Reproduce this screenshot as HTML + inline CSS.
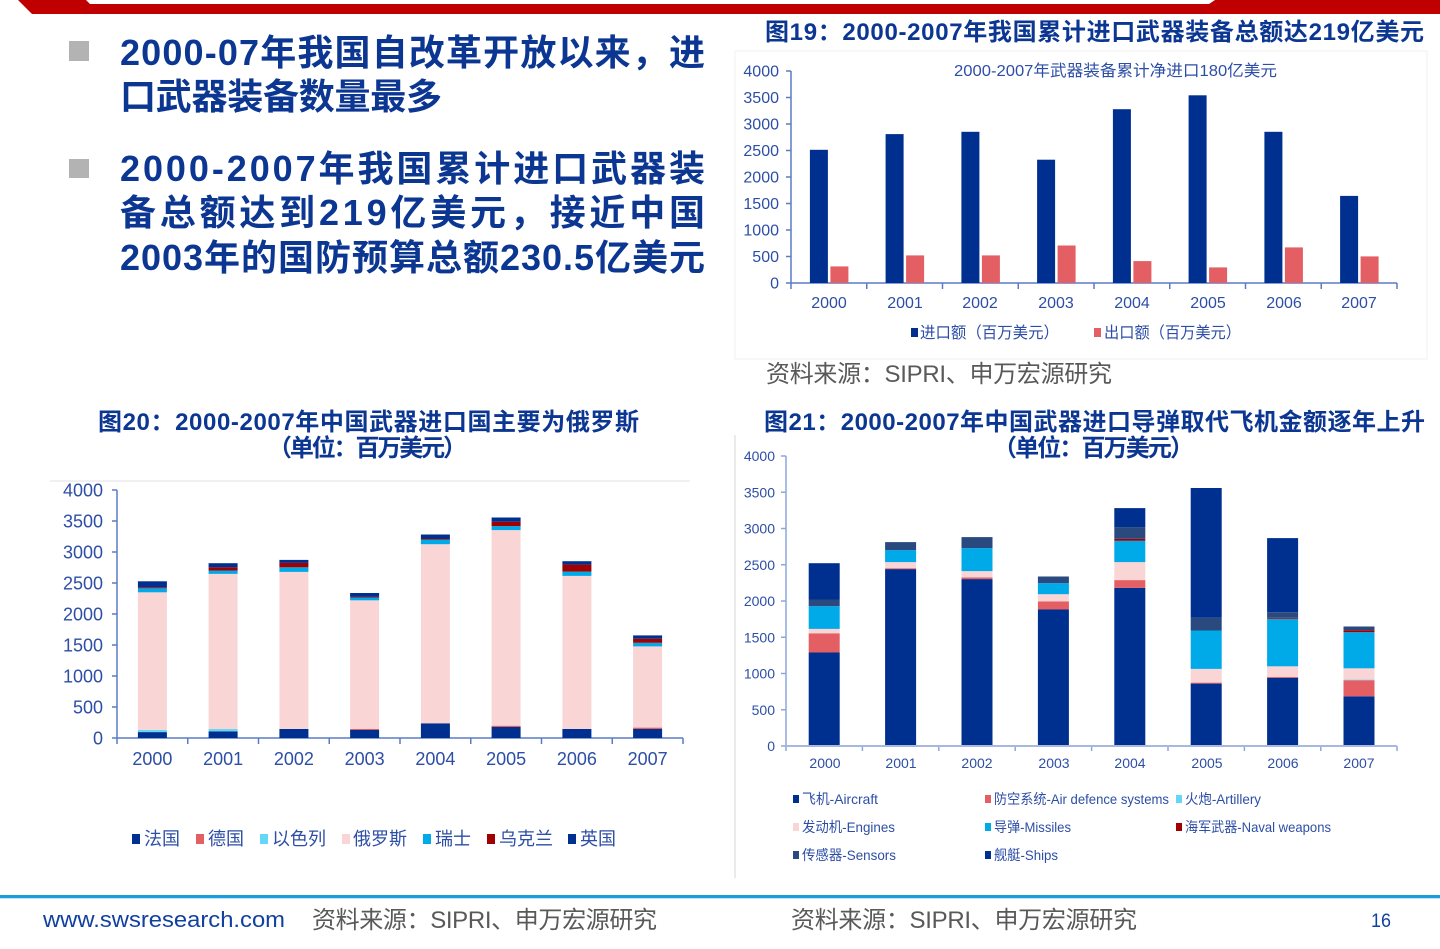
<!DOCTYPE html>
<html><head><meta charset="utf-8"><style>
html,body{margin:0;padding:0;background:#fff;}
svg{display:block;}
text{font-family:"Liberation Sans","Noto Sans CJK SC",sans-serif;}
</style></head><body>
<svg width="1440" height="949" viewBox="0 0 1440 949" xmlns="http://www.w3.org/2000/svg">
<!-- top red bar -->
<polygon points="18,0 1440,0 1440,14 32,14" fill="#c00000"/>
<polygon points="86,0 1215,0 1209,4 90,4" fill="#ffffff"/>

<!-- left text -->
<rect x="69" y="41" width="20" height="20" fill="#b3b3b3"/>
<rect x="69" y="159" width="20" height="19" fill="#b3b3b3"/>
<g font-size="36" font-weight="bold" fill="#0b3692">
<text x="120" y="65" textLength="585" lengthAdjust="spacing">2000-07年我国自改革开放以来，进</text>
<text x="120" y="109" textLength="322" lengthAdjust="spacing">口武器装备数量最多</text>
<text x="120" y="181" textLength="585" lengthAdjust="spacing">2000-2007年我国累计进口武器装</text>
<text x="120" y="225" textLength="585" lengthAdjust="spacing">备总额达到219亿美元，接近中国</text>
<text x="120" y="270" textLength="585" lengthAdjust="spacing">2003年的国防预算总额230.5亿美元</text>
</g>

<!-- ===== Chart 19 ===== -->
<text x="765" y="40" font-size="24" font-weight="bold" fill="#0b3692" textLength="659" lengthAdjust="spacing">图19：2000-2007年我国累计进口武器装备总额达219亿美元</text>
<rect x="735" y="51" width="692" height="308" fill="none" stroke="#f0f0f0" stroke-width="1"/>
<text x="954" y="76" font-size="16" fill="#2d4ea6" textLength="323" lengthAdjust="spacingAndGlyphs">2000-2007年武器装备累计净进口180亿美元</text>
<g stroke="#5b7bc8" stroke-width="1.5">
<line x1="791" y1="71" x2="791" y2="283"/>
<line x1="791" y1="283" x2="1397" y2="283"/>
<line x1="786" y1="71" x2="791" y2="71"/><line x1="786" y1="97.5" x2="791" y2="97.5"/><line x1="786" y1="124" x2="791" y2="124"/><line x1="786" y1="150.5" x2="791" y2="150.5"/><line x1="786" y1="177" x2="791" y2="177"/><line x1="786" y1="203.5" x2="791" y2="203.5"/><line x1="786" y1="230" x2="791" y2="230"/><line x1="786" y1="256.5" x2="791" y2="256.5"/><line x1="786" y1="283" x2="791" y2="283"/>
<line x1="791" y1="283" x2="791" y2="289"/><line x1="866.75" y1="283" x2="866.75" y2="289"/><line x1="942.5" y1="283" x2="942.5" y2="289"/><line x1="1018.25" y1="283" x2="1018.25" y2="289"/><line x1="1094" y1="283" x2="1094" y2="289"/><line x1="1169.75" y1="283" x2="1169.75" y2="289"/><line x1="1245.5" y1="283" x2="1245.5" y2="289"/><line x1="1321.25" y1="283" x2="1321.25" y2="289"/><line x1="1397" y1="283" x2="1397" y2="289"/>
</g>
<g font-size="16" fill="#2d4ea6" text-anchor="end">
<text x="779" y="76.5">4000</text><text x="779" y="103">3500</text><text x="779" y="129.5">3000</text><text x="779" y="156">2500</text><text x="779" y="182.5">2000</text><text x="779" y="209">1500</text><text x="779" y="235.5">1000</text><text x="779" y="262">500</text><text x="779" y="288.5">0</text>
</g>
<g font-size="16" fill="#2d4ea6" text-anchor="middle">
<text x="829" y="308">2000</text><text x="905" y="308">2001</text><text x="980" y="308">2002</text><text x="1056" y="308">2003</text><text x="1132" y="308">2004</text><text x="1208" y="308">2005</text><text x="1284" y="308">2006</text><text x="1359" y="308">2007</text>
</g>
<g fill="#00308f">
<rect x="809.9" y="149.8" width="18" height="133.2"/>
<rect x="885.6" y="134.1" width="18" height="148.9"/>
<rect x="961.4" y="131.8" width="18" height="151.2"/>
<rect x="1037.1" y="159.7" width="18" height="123.3"/>
<rect x="1112.9" y="109.2" width="18" height="173.8"/>
<rect x="1188.6" y="95.3" width="18" height="187.7"/>
<rect x="1264.4" y="131.8" width="18" height="151.2"/>
<rect x="1340.1" y="195.9" width="18" height="87.1"/>
</g>
<g fill="#e35f63">
<rect x="830.4" y="266.4" width="18" height="16.6"/>
<rect x="906.1" y="255.4" width="18" height="27.6"/>
<rect x="981.9" y="255.4" width="18" height="27.6"/>
<rect x="1057.6" y="245.5" width="18" height="37.5"/>
<rect x="1133.4" y="261.1" width="18" height="21.9"/>
<rect x="1209.1" y="267.4" width="18" height="15.6"/>
<rect x="1284.9" y="247.4" width="18" height="35.6"/>
<rect x="1360.6" y="256.4" width="18" height="26.6"/>
</g>
<rect x="911" y="328" width="7" height="9" fill="#00308f"/>
<text x="920" y="338" font-size="16" fill="#2d4ea6" textLength="139" lengthAdjust="spacingAndGlyphs">进口额（百万美元）</text>
<rect x="1094" y="328" width="7" height="9" fill="#e35f63"/>
<text x="1104" y="338" font-size="16" fill="#2d4ea6" textLength="137" lengthAdjust="spacingAndGlyphs">出口额（百万美元）</text>
<text x="766" y="382" font-size="24" fill="#595959" textLength="346" lengthAdjust="spacing">资料来源：SIPRI、申万宏源研究</text>

<!-- ===== Chart 20 ===== -->
<text x="98" y="430" font-size="24" font-weight="bold" fill="#0b3692" textLength="541" lengthAdjust="spacing">图20：2000-2007年中国武器进口国主要为俄罗斯</text>
<text x="268" y="456" font-size="24" font-weight="bold" fill="#0b3692" textLength="199" lengthAdjust="spacing">（单位：百万美元）</text>
<line x1="50" y1="481" x2="690" y2="481" stroke="#ebebeb" stroke-width="1.5"/>
<g stroke="#5b7bc8" stroke-width="1.5">
<line x1="117" y1="490" x2="117" y2="738"/>
<line x1="117" y1="738" x2="683" y2="738"/>
<line x1="112" y1="490" x2="117" y2="490"/><line x1="112" y1="521" x2="117" y2="521"/><line x1="112" y1="552" x2="117" y2="552"/><line x1="112" y1="583" x2="117" y2="583"/><line x1="112" y1="614" x2="117" y2="614"/><line x1="112" y1="645" x2="117" y2="645"/><line x1="112" y1="676" x2="117" y2="676"/><line x1="112" y1="707" x2="117" y2="707"/><line x1="112" y1="738" x2="117" y2="738"/>
<line x1="117" y1="738" x2="117" y2="744"/><line x1="187.75" y1="738" x2="187.75" y2="744"/><line x1="258.5" y1="738" x2="258.5" y2="744"/><line x1="329.25" y1="738" x2="329.25" y2="744"/><line x1="400" y1="738" x2="400" y2="744"/><line x1="470.75" y1="738" x2="470.75" y2="744"/><line x1="541.5" y1="738" x2="541.5" y2="744"/><line x1="612.25" y1="738" x2="612.25" y2="744"/><line x1="683" y1="738" x2="683" y2="744"/>
</g>
<g font-size="18" fill="#2d4ea6" text-anchor="end">
<text x="103" y="496.5">4000</text><text x="103" y="527.5">3500</text><text x="103" y="558.5">3000</text><text x="103" y="589.5">2500</text><text x="103" y="620.5">2000</text><text x="103" y="651.5">1500</text><text x="103" y="682.5">1000</text><text x="103" y="713.5">500</text><text x="103" y="744.5">0</text>
</g>
<g font-size="18" fill="#2d4ea6" text-anchor="middle">
<text x="152.4" y="765">2000</text><text x="223.1" y="765">2001</text><text x="293.9" y="765">2002</text><text x="364.6" y="765">2003</text><text x="435.4" y="765">2004</text><text x="506.1" y="765">2005</text><text x="576.9" y="765">2006</text><text x="647.6" y="765">2007</text>
</g>
<!-- 2000 -->
<rect x="137.9" y="732.1" width="29" height="5.9" fill="#00308f"/>
<rect x="137.9" y="729.9" width="29" height="2.2" fill="#66d6f6"/>
<rect x="137.9" y="592.3" width="29" height="137.6" fill="#f9d5d5"/>
<rect x="137.9" y="588.3" width="29" height="4.0" fill="#00aae9"/>
<rect x="137.9" y="587.3" width="29" height="1.0" fill="#a00000"/>
<rect x="137.9" y="581.3" width="29" height="6.0" fill="#00308f"/>
<!-- 2001 -->
<rect x="208.6" y="731.3" width="29" height="6.7" fill="#00308f"/>
<rect x="208.6" y="729.0" width="29" height="2.3" fill="#66d6f6"/>
<rect x="208.6" y="573.9" width="29" height="155.1" fill="#f9d5d5"/>
<rect x="208.6" y="570.6" width="29" height="3.3" fill="#00aae9"/>
<rect x="208.6" y="567.3" width="29" height="3.3" fill="#a00000"/>
<rect x="208.6" y="563.2" width="29" height="4.1" fill="#00308f"/>
<!-- 2002 -->
<rect x="279.4" y="729.0" width="29" height="9.0" fill="#00308f"/>
<rect x="279.4" y="571.9" width="29" height="157.1" fill="#f9d5d5"/>
<rect x="279.4" y="567.3" width="29" height="4.6" fill="#00aae9"/>
<rect x="279.4" y="562.9" width="29" height="4.4" fill="#a00000"/>
<rect x="279.4" y="559.9" width="29" height="3.0" fill="#00308f"/>
<!-- 2003 -->
<rect x="350.1" y="730.0" width="29" height="8.0" fill="#00308f"/>
<rect x="350.1" y="729.0" width="29" height="1.0" fill="#e35f63"/>
<rect x="350.1" y="600.3" width="29" height="128.7" fill="#f9d5d5"/>
<rect x="350.1" y="597.6" width="29" height="2.7" fill="#00aae9"/>
<rect x="350.1" y="596.9" width="29" height="0.7" fill="#a00000"/>
<rect x="350.1" y="593.0" width="29" height="3.9" fill="#00308f"/>
<!-- 2004 -->
<rect x="420.9" y="723.3" width="29" height="14.7" fill="#00308f"/>
<rect x="420.9" y="544.2" width="29" height="179.1" fill="#f9d5d5"/>
<rect x="420.9" y="539.5" width="29" height="4.7" fill="#00aae9"/>
<rect x="420.9" y="538.5" width="29" height="1.0" fill="#a00000"/>
<rect x="420.9" y="534.5" width="29" height="4.0" fill="#00308f"/>
<!-- 2005 -->
<rect x="491.6" y="727.0" width="29" height="11.0" fill="#00308f"/>
<rect x="491.6" y="725.7" width="29" height="1.3" fill="#e35f63"/>
<rect x="491.6" y="530.1" width="29" height="195.6" fill="#f9d5d5"/>
<rect x="491.6" y="526.1" width="29" height="4.0" fill="#00aae9"/>
<rect x="491.6" y="521.8" width="29" height="4.3" fill="#a00000"/>
<rect x="491.6" y="517.5" width="29" height="4.3" fill="#00308f"/>
<!-- 2006 -->
<rect x="562.4" y="729.0" width="29" height="9.0" fill="#00308f"/>
<rect x="562.4" y="575.9" width="29" height="153.1" fill="#f9d5d5"/>
<rect x="562.4" y="571.6" width="29" height="4.3" fill="#00aae9"/>
<rect x="562.4" y="564.6" width="29" height="7.0" fill="#a00000"/>
<rect x="562.4" y="561.2" width="29" height="3.4" fill="#00308f"/>
<!-- 2007 -->
<rect x="633.1" y="729.0" width="29" height="9.0" fill="#00308f"/>
<rect x="633.1" y="727.6" width="29" height="1.4" fill="#e35f63"/>
<rect x="633.1" y="646.4" width="29" height="81.2" fill="#f9d5d5"/>
<rect x="633.1" y="642.8" width="29" height="3.6" fill="#00aae9"/>
<rect x="633.1" y="638.7" width="29" height="4.1" fill="#a00000"/>
<rect x="633.1" y="635.4" width="29" height="3.3" fill="#00308f"/>
<!-- legend 20 -->
<g font-size="18" fill="#2d4ea6">
<rect x="132" y="834" width="8" height="10" fill="#00308f"/><text x="144" y="845" textLength="36" lengthAdjust="spacingAndGlyphs">法国</text>
<rect x="196" y="834" width="8" height="10" fill="#e35f63"/><text x="208" y="845" textLength="36" lengthAdjust="spacingAndGlyphs">德国</text>
<rect x="260" y="834" width="8" height="10" fill="#66d6f6"/><text x="272" y="845" textLength="54" lengthAdjust="spacingAndGlyphs">以色列</text>
<rect x="342" y="834" width="8" height="10" fill="#f9d5d5"/><text x="353" y="845" textLength="54" lengthAdjust="spacingAndGlyphs">俄罗斯</text>
<rect x="423" y="834" width="8" height="10" fill="#00aae9"/><text x="435" y="845" textLength="36" lengthAdjust="spacingAndGlyphs">瑞士</text>
<rect x="487" y="834" width="8" height="10" fill="#a00000"/><text x="499" y="845" textLength="54" lengthAdjust="spacingAndGlyphs">乌克兰</text>
<rect x="568" y="834" width="8" height="10" fill="#00308f"/><text x="580" y="845" textLength="36" lengthAdjust="spacingAndGlyphs">英国</text>
</g>

<!-- ===== Chart 21 ===== -->
<text x="764" y="430" font-size="24" font-weight="bold" fill="#0b3692" textLength="661" lengthAdjust="spacing">图21：2000-2007年中国武器进口导弹取代飞机金额逐年上升</text>
<text x="993" y="456" font-size="24" font-weight="bold" fill="#0b3692" textLength="201" lengthAdjust="spacing">（单位：百万美元）</text>
<line x1="735" y1="435" x2="735" y2="878" stroke="#e3e3e3" stroke-width="1.5"/>
<g stroke="#8fa6da" stroke-width="1.5">
<line x1="786" y1="456" x2="786" y2="746"/>
<line x1="781" y1="456" x2="786" y2="456"/><line x1="781" y1="492.25" x2="786" y2="492.25"/><line x1="781" y1="528.5" x2="786" y2="528.5"/><line x1="781" y1="564.75" x2="786" y2="564.75"/><line x1="781" y1="601" x2="786" y2="601"/><line x1="781" y1="637.25" x2="786" y2="637.25"/><line x1="781" y1="673.5" x2="786" y2="673.5"/><line x1="781" y1="709.75" x2="786" y2="709.75"/><line x1="781" y1="746" x2="786" y2="746"/>
<line x1="786" y1="746" x2="786" y2="751"/><line x1="862.4" y1="746" x2="862.4" y2="751"/><line x1="938.8" y1="746" x2="938.8" y2="751"/><line x1="1015.2" y1="746" x2="1015.2" y2="751"/><line x1="1091.6" y1="746" x2="1091.6" y2="751"/><line x1="1168" y1="746" x2="1168" y2="751"/><line x1="1244.4" y1="746" x2="1244.4" y2="751"/><line x1="1320.8" y1="746" x2="1320.8" y2="751"/><line x1="1397" y1="746" x2="1397" y2="751"/>
</g>
<g font-size="14" fill="#2d4ea6" text-anchor="end">
<text x="775" y="461">4000</text><text x="775" y="497.25">3500</text><text x="775" y="533.5">3000</text><text x="775" y="569.75">2500</text><text x="775" y="606">2000</text><text x="775" y="642.25">1500</text><text x="775" y="678.5">1000</text><text x="775" y="714.75">500</text><text x="775" y="751">0</text>
</g>
<g font-size="14" fill="#2d4ea6" text-anchor="middle">
<text x="825" y="768">2000</text><text x="901" y="768">2001</text><text x="977" y="768">2002</text><text x="1054" y="768">2003</text><text x="1130" y="768">2004</text><text x="1207" y="768">2005</text><text x="1283" y="768">2006</text><text x="1359" y="768">2007</text>
</g>
<!-- 2000 -->
<rect x="808.7" y="652.5" width="31" height="93.5" fill="#00308f"/>
<rect x="808.7" y="633.3" width="31" height="19.2" fill="#e35f63"/>
<rect x="808.7" y="628.9" width="31" height="4.4" fill="#f9d5d5"/>
<rect x="808.7" y="606.2" width="31" height="22.7" fill="#00aae9"/>
<rect x="808.7" y="599.5" width="31" height="6.7" fill="#2a4a7f"/>
<rect x="808.7" y="563.2" width="31" height="36.3" fill="#00308f"/>
<!-- 2001 -->
<rect x="885.1" y="569.1" width="31" height="176.9" fill="#00308f"/>
<rect x="885.1" y="568.2" width="31" height="0.9" fill="#e35f63"/>
<rect x="885.1" y="562.1" width="31" height="6.1" fill="#f9d5d5"/>
<rect x="885.1" y="550.1" width="31" height="12.0" fill="#00aae9"/>
<rect x="885.1" y="542.1" width="31" height="8.0" fill="#2a4a7f"/>
<!-- 2002 -->
<rect x="961.5" y="579.1" width="31" height="166.9" fill="#00308f"/>
<rect x="961.5" y="577.4" width="31" height="1.7" fill="#e35f63"/>
<rect x="961.5" y="571.1" width="31" height="6.3" fill="#f9d5d5"/>
<rect x="961.5" y="548.1" width="31" height="23.0" fill="#00aae9"/>
<rect x="961.5" y="537.1" width="31" height="11.0" fill="#2a4a7f"/>
<!-- 2003 -->
<rect x="1037.9" y="609.5" width="31" height="136.5" fill="#00308f"/>
<rect x="1037.9" y="601.5" width="31" height="8.0" fill="#e35f63"/>
<rect x="1037.9" y="594.2" width="31" height="7.3" fill="#f9d5d5"/>
<rect x="1037.9" y="583.2" width="31" height="11.0" fill="#00aae9"/>
<rect x="1037.9" y="576.5" width="31" height="6.7" fill="#2a4a7f"/>
<!-- 2004 -->
<rect x="1114.3" y="587.8" width="31" height="158.2" fill="#00308f"/>
<rect x="1114.3" y="580.1" width="31" height="7.7" fill="#e35f63"/>
<rect x="1114.3" y="562.1" width="31" height="18.0" fill="#f9d5d5"/>
<rect x="1114.3" y="540.8" width="31" height="21.3" fill="#00aae9"/>
<rect x="1114.3" y="538.8" width="31" height="2.0" fill="#a00000"/>
<rect x="1114.3" y="527.1" width="31" height="11.7" fill="#2a4a7f"/>
<rect x="1114.3" y="508.1" width="31" height="19.0" fill="#00308f"/>
<!-- 2005 -->
<rect x="1190.7" y="683.6" width="31" height="62.4" fill="#00308f"/>
<rect x="1190.7" y="682.6" width="31" height="1.0" fill="#e35f63"/>
<rect x="1190.7" y="668.9" width="31" height="13.7" fill="#f9d5d5"/>
<rect x="1190.7" y="630.5" width="31" height="38.4" fill="#00aae9"/>
<rect x="1190.7" y="617.8" width="31" height="12.7" fill="#2a4a7f"/>
<rect x="1190.7" y="488.0" width="31" height="129.8" fill="#00308f"/>
<!-- 2006 -->
<rect x="1267.1" y="677.9" width="31" height="68.1" fill="#00308f"/>
<rect x="1267.1" y="676.9" width="31" height="1.0" fill="#e35f63"/>
<rect x="1267.1" y="666.3" width="31" height="10.6" fill="#f9d5d5"/>
<rect x="1267.1" y="618.8" width="31" height="47.5" fill="#00aae9"/>
<rect x="1267.1" y="617.8" width="31" height="1.0" fill="#a00000"/>
<rect x="1267.1" y="612.2" width="31" height="5.6" fill="#2a4a7f"/>
<rect x="1267.1" y="538.1" width="31" height="74.1" fill="#00308f"/>
<!-- 2007 -->
<rect x="1343.5" y="696.3" width="31" height="49.7" fill="#00308f"/>
<rect x="1343.5" y="680.2" width="31" height="16.1" fill="#e35f63"/>
<rect x="1343.5" y="679.6" width="31" height="0.6" fill="#66d6f6"/>
<rect x="1343.5" y="668.3" width="31" height="11.3" fill="#f9d5d5"/>
<rect x="1343.5" y="632.2" width="31" height="36.1" fill="#00aae9"/>
<rect x="1343.5" y="630.2" width="31" height="2.0" fill="#a00000"/>
<rect x="1343.5" y="626.5" width="31" height="3.7" fill="#2a4a7f"/>
<line x1="786" y1="746" x2="1397" y2="746" stroke="#a8b8e0" stroke-width="2"/>
<!-- legend 21 -->
<g font-size="14" fill="#2d4ea6">
<rect x="793" y="795" width="6" height="8" fill="#00308f"/><text x="802" y="804" textLength="76" lengthAdjust="spacingAndGlyphs">飞机-Aircraft</text>
<rect x="985" y="795" width="6" height="8" fill="#e35f63"/><text x="994" y="804" textLength="175" lengthAdjust="spacingAndGlyphs">防空系统-Air defence systems</text>
<rect x="1176" y="795" width="6" height="8" fill="#66d6f6"/><text x="1185" y="804" textLength="76" lengthAdjust="spacingAndGlyphs">火炮-Artillery</text>
<rect x="793" y="823" width="6" height="8" fill="#f9d5d5"/><text x="802" y="832" textLength="93" lengthAdjust="spacingAndGlyphs">发动机-Engines</text>
<rect x="985" y="823" width="6" height="8" fill="#00aae9"/><text x="994" y="832" textLength="77" lengthAdjust="spacingAndGlyphs">导弹-Missiles</text>
<rect x="1176" y="823" width="6" height="8" fill="#a00000"/><text x="1185" y="832" textLength="146" lengthAdjust="spacingAndGlyphs">海军武器-Naval weapons</text>
<rect x="793" y="851" width="6" height="8" fill="#2a4a7f"/><text x="802" y="860" textLength="94" lengthAdjust="spacingAndGlyphs">传感器-Sensors</text>
<rect x="985" y="851" width="6" height="8" fill="#00308f"/><text x="994" y="860" textLength="64" lengthAdjust="spacingAndGlyphs">舰艇-Ships</text>
</g>

<!-- footer -->
<rect x="0" y="895" width="1440" height="3" fill="#1a9fdb"/>
<rect x="0" y="898" width="1440" height="1" fill="#bfe4f5"/>
<text x="43" y="927" font-size="22" fill="#1040a0" textLength="242" lengthAdjust="spacingAndGlyphs">www.swsresearch.com</text>
<text x="312" y="928" font-size="24" fill="#595959" textLength="345" lengthAdjust="spacing">资料来源：SIPRI、申万宏源研究</text>
<text x="791" y="928" font-size="24" fill="#595959" textLength="346" lengthAdjust="spacing">资料来源：SIPRI、申万宏源研究</text>
<text x="1371" y="927" font-size="19" fill="#1040a0" textLength="20" lengthAdjust="spacingAndGlyphs">16</text>
</svg>
</body></html>
